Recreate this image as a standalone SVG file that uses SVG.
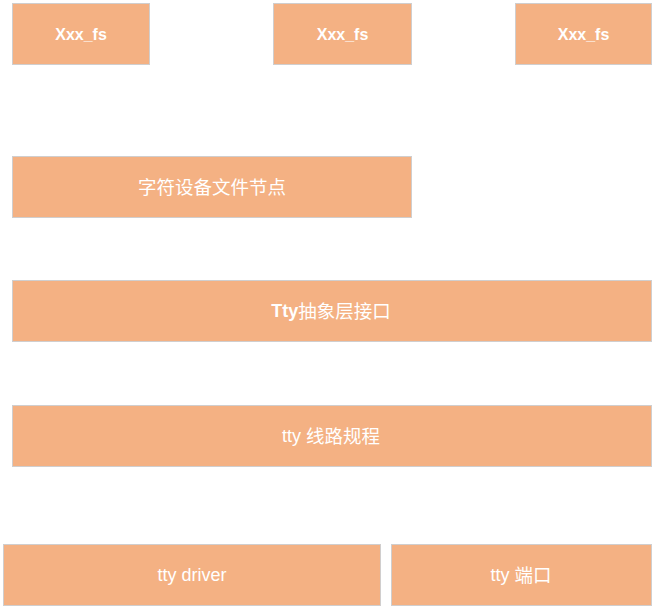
<svg xmlns="http://www.w3.org/2000/svg" width="654" height="607" viewBox="0 0 654 607">
<style>
.box{fill:#F4B183;stroke:#D0CECE;stroke-width:1}
.lbl{fill:#FFFFFF;font-family:"Liberation Sans","Noto Sans CJK SC",sans-serif;font-size:18px;text-anchor:middle;dominant-baseline:central}
.cjk{font-size:18.5px}
.b{font-weight:bold}
.fs{font-size:16px;font-weight:bold}
</style>
<rect width="654" height="607" fill="#FFFFFF"/>
<g id="connectors"></g>
<g id="fs1"><rect class="box" x="12.5" y="3.5" width="137" height="61"/><text class="lbl fs" x="81" y="34">Xxx_fs</text></g>
<g id="fs2"><rect class="box" x="273.5" y="3.5" width="138" height="61"/><text class="lbl fs" x="342.5" y="34">Xxx_fs</text></g>
<g id="fs3"><rect class="box" x="515.5" y="3.5" width="136" height="61"/><text class="lbl fs" x="583.5" y="34">Xxx_fs</text></g>
<g id="chardev"><rect class="box" x="12.5" y="156.5" width="399" height="61"/><text class="lbl cjk" x="212" y="187">字符设备文件节点</text></g>
<g id="ttycore"><rect class="box" x="12.5" y="280.5" width="639" height="61"/><text class="lbl" x="331" y="311"><tspan class="b">Tty</tspan><tspan class="cjk">抽象层接口</tspan></text></g>
<g id="ldisc"><rect class="box" x="12.5" y="405.5" width="639" height="61"/><text class="lbl" x="331" y="436">tty <tspan class="cjk">线路规程</tspan></text></g>
<g id="driver"><rect class="box" x="3.5" y="544.5" width="377" height="61"/><text class="lbl" x="192" y="575">tty driver</text></g>
<g id="port"><rect class="box" x="391.5" y="544.5" width="260" height="61"/><text class="lbl" x="521" y="575">tty <tspan class="cjk">端口</tspan></text></g>
</svg>
